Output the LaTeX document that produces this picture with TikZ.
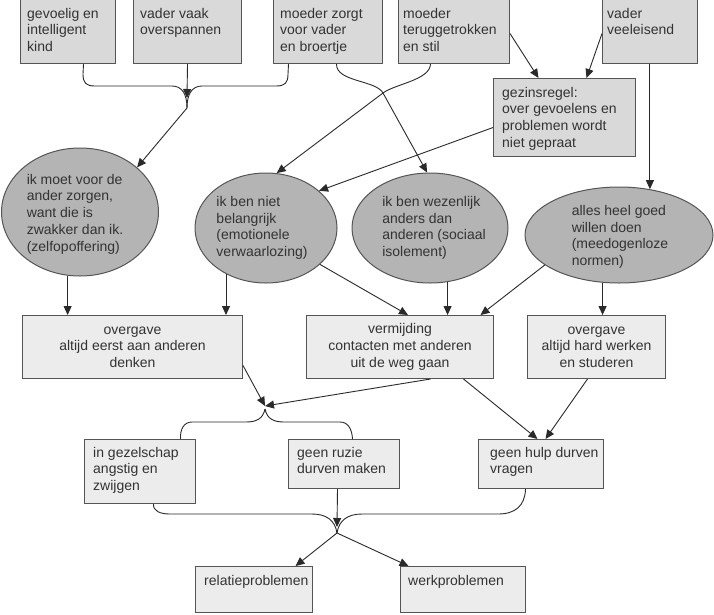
\documentclass[tikz,border=0pt]{standalone}
\usepackage{fontspec}
\setmainfont{Liberation Sans}
\usetikzlibrary{shapes.geometric,arrows.meta,calc}
\definecolor{topfill}{HTML}{D9D9D9}
\definecolor{ellfill}{HTML}{B4B4B4}
\definecolor{lowfill}{HTML}{ECECEC}
\definecolor{edgecol}{HTML}{555555}
\definecolor{linecol}{HTML}{2A2A2A}
\definecolor{txtcol}{HTML}{333333}
\newcommand{\ptxt}[2]{\parbox[t]{#1}{\raggedright #2}}
\begin{document}
\begin{tikzpicture}[x=1pt,y=-1pt,
 topbox/.style={draw=edgecol, line width=1pt, fill=topfill, anchor=north west, inner sep=0pt},
 lowbox/.style={draw=edgecol, line width=1pt, fill=lowfill, anchor=north west, inner sep=0pt},
 ell/.style={ellipse, draw=edgecol, line width=1pt, fill=ellfill, inner sep=0pt},
 txt/.style={inner sep=0pt, text=txtcol, font=\fontsize{14}{16.7}\selectfont},
 conn/.style={draw=linecol, line width=0.9pt},
 arr/.style={conn, -{Triangle[length=9pt,width=8pt]}},
]
\useasboundingbox[fill=white] (0,0) rectangle (714,614);

% top boxes
\node[topbox, minimum width=95pt, minimum height=65pt] (b1) at (20,-2) {};
\node[topbox, minimum width=108pt, minimum height=65pt] (b2) at (133,-2) {};
\node[topbox, minimum width=109pt, minimum height=65pt] (b3) at (273,-2) {};
\node[topbox, minimum width=111pt, minimum height=65pt] (b4) at (398,-2) {};
\node[topbox, minimum width=95pt, minimum height=65pt] (b5) at (602,-2) {};
\node[topbox, minimum width=142pt, minimum height=78pt] (g) at (493,78) {};
\node[txt, anchor=base west] (b1t) at (27,18) {\ptxt{100pt}{gevoelig en\\intelligent\\kind}};
\node[txt, anchor=base west] (b2t) at (140,18) {\ptxt{100pt}{vader vaak\\overspannen}};
\node[txt, anchor=base west] (b3t) at (280,18) {\ptxt{100pt}{moeder zorgt\\voor vader\\en broertje}};
\node[txt, anchor=base west] (b4t) at (403,18) {\ptxt{105pt}{moeder\\teruggetrokken\\en stil}};
\node[txt, anchor=base west] (b5t) at (607,18) {\ptxt{90pt}{vader\\veeleisend}};
\node[txt, anchor=base west] (gt) at (502,97) {\ptxt{130pt}{gezinsregel:\\over gevoelens en\\problemen wordt\\niet gepraat}};

% ellipses
\node[ell, minimum width=157pt, minimum height=128pt] (e1) at (80,212) {};
\node[ell, minimum width=142pt, minimum height=110pt] (e2) at (266,228) {};
\node[ell, minimum width=156pt, minimum height=110pt] (e3) at (430,228) {};
\node[ell, minimum width=188pt, minimum height=96pt] (e4) at (619,235) {};
\node[txt, align=left] (e1t) at (75,214) {ik moet voor de\\ander zorgen,\\want die is\\zwakker dan ik.\\(zelfopoffering)};
\node[txt, align=left] (e2t) at (262,228) {ik ben niet\\belangrijk\\(emotionele\\verwaarlozing)};
\node[txt, align=left] (e3t) at (434,228) {ik ben wezenlijk\\anders dan\\anderen (sociaal\\isolement)};
\node[txt, align=left] (e4t) at (620,237) {alles heel goed\\willen doen\\(meedogenloze\\normen)};

% middle boxes
\node[lowbox, minimum width=220pt, minimum height=63pt] (o1) at (22,315) {};
\node[lowbox, minimum width=187pt, minimum height=63pt] (v) at (306,315) {};
\node[lowbox, minimum width=138pt, minimum height=63pt] (o2) at (527,315) {};
\node[txt, align=center] (o1t) at (o1) {overgave\\altijd eerst aan anderen\\denken};
\node[txt, align=center] (vt) at (v) {vermijding\\contacten met anderen\\uit de weg gaan};
\node[txt, align=center] (o2t) at (o2) {overgave\\altijd hard werken\\en studeren};

% lower boxes
\node[lowbox, minimum width=111pt, minimum height=64pt] (ig) at (84,439) {};
\node[lowbox, minimum width=111pt, minimum height=49pt] (gr) at (288,439) {};
\node[lowbox, minimum width=125pt, minimum height=49pt] (gh) at (478,439) {};
\node[lowbox, minimum width=117pt, minimum height=46pt] (rp) at (195,566) {};
\node[lowbox, minimum width=125pt, minimum height=46pt] (wp) at (400,566) {};
\node[txt, anchor=base west] (igt) at (93,457) {\ptxt{100pt}{in gezelschap\\angstig en\\zwijgen}};
\node[txt, anchor=base west] (grt) at (297,457) {\ptxt{100pt}{geen ruzie\\durven maken}};
\node[txt, anchor=base west] (ght) at (490,457) {\ptxt{115pt}{geen hulp durven\\vragen}};
\node[txt, anchor=base west] (rpt) at (204,585) {relatieproblemen};
\node[txt, anchor=base west] (wpt) at (408,585) {werkproblemen};

% brace 1
\coordinate (t1) at (187,108);
\coordinate (j1) at (187,98);
\draw[conn] ([xshift=15.5pt]b1.south) -- (83,74) .. controls (83,83) and (86,86) .. (95,86) -- (172,86) .. controls (182,86) and (187,94) .. (t1);
\draw[conn] ([xshift=-39.5pt]b3.south) -- (288,74) .. controls (288,83) and (285,86) .. (276,86) -- (202,86) .. controls (192,86) and (187,94) .. (t1);
\draw[arr] (b2.south) -- (j1);
\draw[arr] (t1) -- (e1.38);

% crossing curves
\coordinate (x1) at (383,93);
\draw[arr] ([xshift=8.5pt]b3.south) .. controls (336,82) and (376,80) .. (x1) -- (e3.93);
\draw[arr] ([xshift=-23.5pt]b4.south) .. controls (430,80) and (395,84) .. (x1) -- (e2.79);

% gezinsregel
\draw[arr] ([yshift=-2.5pt]b4.east) -- ([xshift=-26pt]g.north);
\draw[arr] ([yshift=-2.5pt]b5.west) -- ([xshift=22pt]g.north);
\draw[arr] ([yshift=-10pt]g.west) -- (e2.35);
\draw[arr] (e4.56 |- b5.south) -- (e4.56);

% ellipses to boxes
\draw[arr] (e1.-101) -- (e1.-101 |- o1.north);
\draw[arr] (e2.-131) -- (e2.-131 |- o1.north);
\draw[arr] (e2.-34) -- ([xshift=8pt]v.north);
\draw[arr] (e3.-72) -- (e3.-72 |- v.north);
\draw[arr] (e4.-158) -- ([xshift=80.5pt]v.north);
\draw[arr] (e4.-109) -- (e4.-109 |- o2.north);

% brace 2
\coordinate (j2) at (265,406);
\coordinate (t2) at (265,409);
\draw[arr] ([yshift=-18.5pt]o1.east) -- (j2);
\draw[arr] ([xshift=30.5pt]v.south) -- (j2);
\draw[conn] (t2) .. controls (263,419) and (256,422) .. (246,422) -- (192,422) .. controls (184,422) and (180,429) .. ([xshift=40.5pt]ig.north);
\draw[conn] (t2) .. controls (267,419) and (274,422) .. (284,422) -- (340,422) .. controls (348,422) and (352,429) .. ([xshift=8.5pt]gr.north);
\draw[arr] ([xshift=63.5pt]v.south) -- ([xshift=-3.5pt]gh.north);
\draw[arr] ([xshift=-9pt]o2.south) -- ([xshift=4.5pt]gh.north);

% brace 3
\coordinate (t3) at (337,533);
\coordinate (j3) at (337,527);
\draw[arr] ([xshift=-6.5pt]gr.south) -- (j3);
\draw[conn] ([xshift=13.5pt]ig.south) .. controls (153,511) and (160,514) .. (170,514) -- (312,514) .. controls (326,514) and (335,520) .. (t3);
\draw[conn] ([xshift=-15.5pt]gh.south) .. controls (525,506) and (515,514) .. (498,514) -- (362,514) .. controls (348,514) and (339,520) .. (t3);
\draw[arr] (t3) -- ([xshift=41.5pt]rp.north);
\draw[arr] (t3) -- ([xshift=-54.5pt]wp.north);
\end{tikzpicture}
\end{document}
